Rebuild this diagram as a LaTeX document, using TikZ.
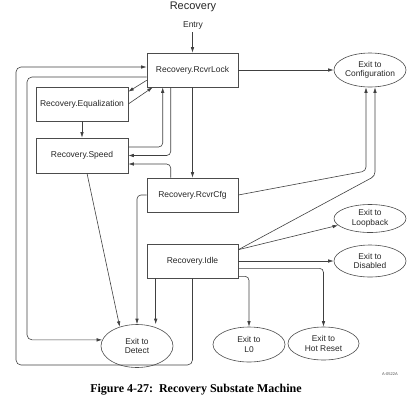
\documentclass[tikz,border=0pt]{standalone}
\usepackage{fontspec}
\setmainfont{Liberation Sans}
\newfontfamily\capfont{Liberation Serif}
\usetikzlibrary{shapes.geometric,arrows.meta}
\begin{document}
\begin{tikzpicture}[x=1pt,y=-1pt,
  line/.style={draw=black!75,line width=0.6pt},
  arr/.style={line,-{Latex[length=5.5pt,width=3.5pt]},rounded corners=4pt},
  state/.style={draw=black!70,line width=0.6pt,rectangle,minimum width=91pt,minimum height=34pt,inner sep=0pt,font=\fontsize{8.5}{9.5}\selectfont,text=black!85},
  exitn/.style={draw=black!70,line width=0.6pt,ellipse,inner sep=0pt,minimum width=72pt,minimum height=34pt,align=center,font=\fontsize{8.4}{9.4}\selectfont,text=black!85}]
\useasboundingbox (0,0) rectangle (415,408);
\node[font=\fontsize{11}{13}\selectfont,text=black!85] (title) at (193,7) {Recovery};
\node[font=\fontsize{8.5}{10}\selectfont,text=black!85] (entry) at (193,25) {Entry};
\node[state] (lock) at (192.5,70) {Recovery.RcvrLock};
\node[state,minimum width=92pt] (eq) at (82,104) {Recovery.Equalization};
\node[state,minimum width=92pt,minimum height=35pt] (speed) at (82,155.5) {Recovery.Speed};
\node[state] (cfg) at (192.5,195) {Recovery.RcvrCfg};
\node[state] (idle) at (192.5,261) {Recovery.Idle};
\node[exitn] (econf) at (370,70) {Exit to\\Configuration};
\node[exitn,minimum height=28pt] (eloop) at (370,218.5) {Exit to\\Loopback};
\node[exitn,minimum height=32pt] (edis) at (370,261) {Exit to\\Disabled};
\node[exitn,minimum height=35pt] (el0) at (249,344.5) {Exit to\\L0};
\node[exitn,minimum width=71pt,minimum height=33pt] (ehot) at (323.5,343.5) {Exit to\\Hot Reset};
\node[exitn,minimum height=43pt] (edet) at (137,346) {Exit to\\Detect};
\node[font=\capfont\bfseries\fontsize{12}{14}\selectfont] (cap) at (196,390) {Figure 4-27:\ \ Recovery Substate Machine};
\node[font=\fontsize{4}{5}\selectfont,text=black!70] (code) at (390,374) {A-0522A};
% connectors
\draw[arr] (entry.south -| lock.north) -- (lock.north);
\draw[arr] (lock.east) -- (econf.west);
\draw[arr,rounded corners=5pt] (idle.south) |- (100,365) -| (16,200) |- ([yshift=3pt]lock.west);
\draw[arr,rounded corners=5pt] ([yshift=-7pt]lock.west) -| (27,200) |- (edet.170);
\draw[arr] ([yshift=7pt]lock.south west) -- ([yshift=-5pt]eq.north east);
\draw[arr] (eq.east) -- ([xshift=6pt]lock.south west);
\draw[arr] (eq.south) -- (speed.north);
\draw[arr] ([yshift=8.5pt]speed.east) -| ([xshift=16pt]lock.south west);
\draw[arr] ([xshift=24pt]lock.south west) |- (speed.east);
\draw[arr] ([xshift=24pt]cfg.north west) |- ([yshift=-8.5pt]speed.east);
\draw[arr] (lock.south) -- (cfg.north);
\draw[arr] ([xshift=5pt]speed.south) -- (edet.132);
\draw[arr] (cfg.west) -| (edet.north);
\coordinate (idt) at ([xshift=9pt]idle.south west);
\draw[arr] (idt) -- (idt |- edet.north);
\draw[arr] (cfg.east) -- (366,171) -- ([xshift=-4pt]econf.south);
\draw[arr] ([yshift=-6pt]idle.north east) -- (375,176) -- ([xshift=5pt]econf.south);
\draw[arr] ([yshift=-6pt]idle.north east) -- (eloop.192);
\draw[arr] (idle.east) -- (edis.west);
\draw[arr] ([yshift=2pt]idle.south east) -| (el0.north);
\draw[arr] ([yshift=10pt]idle.south east) -| (ehot.north);
\end{tikzpicture}
\end{document}
